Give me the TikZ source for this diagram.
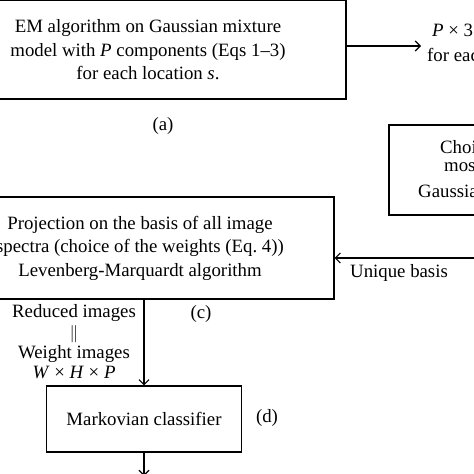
\documentclass[tikz,border=0pt]{standalone}
\usepackage{fontspec}
\setmainfont{Liberation Serif}
\usepackage{amsmath}
\usetikzlibrary{arrows.meta, positioning}

\begin{document}
\begin{tikzpicture}[
  x=1pt, y=-1pt,
  font=\fontsize{18.8}{23.5}\selectfont,
  stepbox/.style={draw, line width=1.3pt, align=center, inner sep=0pt},
  flow/.style={-{Straight Barb[length=5pt, width=10pt]}, line width=1.1pt},
  tag/.style={inner sep=0pt},
  part/.style={inner sep=0pt, anchor=west},
]
\useasboundingbox (0,0) rectangle (474,474);
\clip (0,0) rectangle (474,474);

% boxes
\node[stepbox, minimum width=396pt, minimum height=98.5pt] (emalg) at (148,49.75)
  {EM algorithm on Gaussian mixture\\
   model with \textit{P} components (Eqs 1--3)\\
   for each location \textit{s}.};
\node[stepbox, minimum width=200pt, minimum height=90pt] (choice) at (489,170) {};
\node[stepbox, minimum width=388pt, minimum height=102pt] (proj) at (140,248)
  {Projection on the basis of all image\\
   spectra (choice of the weights (Eq.~4))\\
   Levenberg-Marquardt algorithm};
\node[stepbox, minimum width=195pt, minimum height=66pt] (classif) at (144,419)
  {Markovian classifier};

% text of the cut boxes on the right
\node[part] (params) at (432,32) {\textit{P} × 3 parameters};
\node[part] (paramsb) at (427,55) {for each location};
\node[part, align=left, font=\fontsize{18.8}{17.5}\selectfont] (choicea) at (440,158)
  {Choice of the\\\hspace*{4pt}most significant};
\node[part] (choicec) at (418,193) {Gaussian components};

% labels
\node[tag] (taga) at (163,126) {(a)};
\node[tag] (tagc) at (201,314) {(c)};
\node[tag] (tagd) at (267,418) {(d)};
\node[tag, anchor=west] (basis) at (350,273) {Unique basis};
\node[tag, align=center, font=\fontsize{18.8}{20.4}\selectfont] (reduced) at (74,342)
  {Reduced images\\ $\|$\\ Weight images\\ \textit{W} × \textit{H} × \textit{P}};

% connectors
\coordinate (paramsin) at (421,46);
\coordinate (basisin) at (480,258);
\coordinate (result) at (144,476);
\draw[flow] (emalg.east |- paramsin) -- (paramsin);
\draw[flow] (basisin) -- (proj.east |- basisin);
\draw[flow] (classif.north |- proj.south) -- (classif.north);
\draw[flow] (classif.south) -- (result);
\end{tikzpicture}
\end{document}
